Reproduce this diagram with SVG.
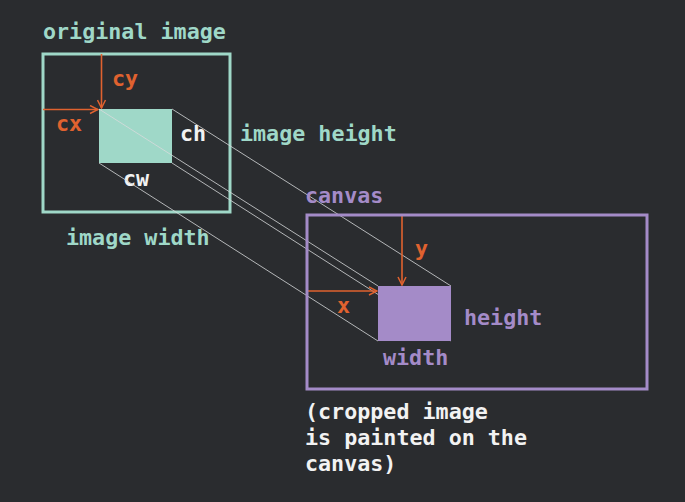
<svg xmlns="http://www.w3.org/2000/svg" width="685" height="502" viewBox="0 0 685 502">
<style>
text{font-family:"DejaVu Sans Mono","Liberation Mono",monospace;font-size:21.7px;font-weight:bold}
.teal{fill:#9fd8c8}
.purple{fill:#a48bc8}
.orange{fill:#e0622f}
.white{fill:#f2f2f2}
.frame-t{fill:none;stroke:#9fd8c8;stroke-width:3}
.frame-p{fill:none;stroke:#a48bc8;stroke-width:3}
.proj{stroke:#d8dadc;stroke-width:0.8;fill:none}
.arr{stroke:#e0622f;stroke-width:1.6;fill:none;marker-end:url(#ah)}
</style>
<defs>
<marker id="ah" viewBox="0 0 10 10" refX="9" refY="5" markerWidth="10" markerHeight="10" markerUnits="userSpaceOnUse" orient="auto">
<path d="M1,1 L9,5 L1,9" fill="none" stroke="#e0622f" stroke-width="1.5"/>
</marker>
</defs>
<rect width="685" height="502" fill="#2a2c2f"/>
<g id="original">
<rect class="frame-t" x="43" y="54" width="187" height="158"/>
<text class="teal" x="43" y="39">original image</text>
<text class="teal" x="240" y="141">image height</text>
<text class="teal" x="66" y="245">image width</text>
</g>
<g id="crop">
<rect class="teal" x="99" y="109" width="73" height="54"/>
<text class="white" x="180" y="141">ch</text>
<text class="white" x="123" y="186">cw</text>
<text class="orange" x="112" y="86">cy</text>
<text class="orange" x="56" y="131">cx</text>
</g>
<g id="connectors">
<line class="proj" x1="99" y1="109" x2="378" y2="286"/>
<line class="proj" x1="172" y1="109" x2="451" y2="286"/>
<line class="proj" x1="99" y1="163" x2="378" y2="341"/>
<line class="proj" x1="172" y1="163" x2="451" y2="341"/>
<line class="arr" x1="101.5" y1="54" x2="101.5" y2="108"/>
<line class="arr" x1="43" y1="109.5" x2="98" y2="109.5"/>
<line class="arr" x1="402" y1="215" x2="402" y2="285"/>
<line class="arr" x1="307" y1="291" x2="377" y2="291"/>
</g>
<g id="canvas">
<rect class="frame-p" x="307" y="215" width="340" height="174"/>
<text class="purple" x="305" y="203">canvas</text>
<text class="orange" x="415" y="256">y</text>
<text class="orange" x="337" y="313">x</text>
</g>
<g id="painted">
<rect class="purple" x="378" y="286" width="73" height="55"/>
<text class="purple" x="464" y="325">height</text>
<text class="purple" x="383" y="365">width</text>
</g>
<g id="note">
<text class="white" x="305" y="419">(cropped image</text>
<text class="white" x="305" y="445">is painted on the</text>
<text class="white" x="305" y="471">canvas)</text>
</g>
</svg>
